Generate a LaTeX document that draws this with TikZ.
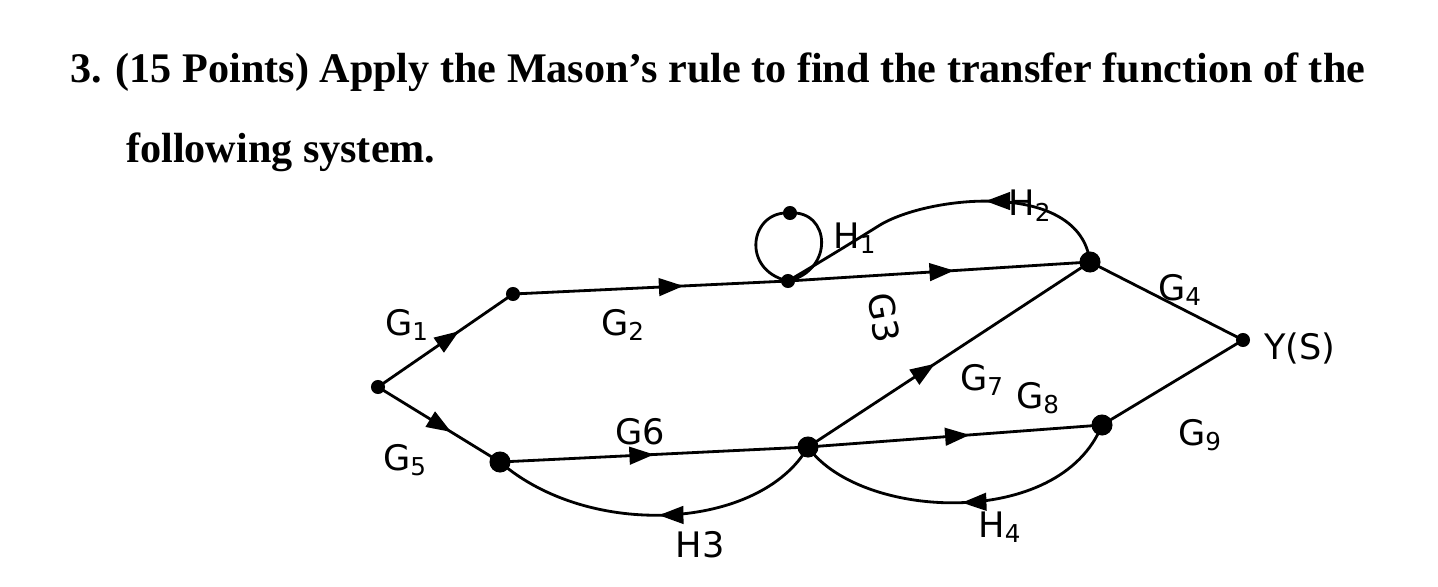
\documentclass[tikz,border=0pt]{standalone}
\usepackage{fontspec}
\setmainfont{Liberation Serif}
\newfontfamily\hand{DejaVu Sans}
\usetikzlibrary{decorations.markings,arrows.meta}
\begin{document}
\begin{tikzpicture}[x=0.02cm,y=-0.02cm,
  dot/.style={circle,fill=black,inner sep=0pt,minimum size=12pt},
  wire/.style={line width=1.6pt,postaction={decorate},decoration={markings,mark=at position #1 with {\arrow{Triangle[length=14pt,width=10pt]}}}},
  wire/.default=0.5,
  lab/.style={font=\hand\fontsize{20}{24}\selectfont,inner sep=1pt},
  head/.style={anchor=base west,font=\bfseries\fontsize{24}{28}\selectfont}]
\useasboundingbox (0,0) rectangle (1438,586);
\node[head] (t1) at (64,82) {3. (15 Points) Apply the Mason's rule to find the transfer function of the};
\node[head] (t2) at (120,162) {following system.};
\node[dot,minimum size=8pt] (s) at (378,387) {};
\node[dot,minimum size=8pt] (n1) at (513,294) {};
\node[dot,minimum size=8pt] (n2) at (788,281) {};
\node[dot] (n3) at (1090,262) {};
\node[dot,minimum size=8pt] (y) at (1243,340) {};
\node[dot] (n4) at (500,462) {};
\node[dot] (n5) at (808,447) {};
\node[dot] (n6) at (1102,425) {};
\node[dot,minimum size=8pt] (lp) at (790,213) {};
\draw[line width=1.6pt] (n2.center) .. controls (740,270) and (750,210) .. (lp.center) .. controls (830,210) and (835,270) .. (n2.center);
\draw[wire=0.6] (s.center) -- (n1.center);
\draw[wire=0.6] (s.center) -- (n4.center);
\draw[wire=0.62] (n1.center) -- (n2.center);
\draw[wire=0.55] (n2.center) -- (n3.center);
\draw[line width=1.6pt] (n3.center) -- (y.center);
\draw[wire=0.5] (n4.center) -- (n5.center);
\draw[wire=0.55] (n5.center) -- (n6.center);
\draw[wire=0.45] (n5.center) -- (n3.center);
\draw[line width=1.6pt] (n6.center) -- (y.center);
\draw[wire=0.38] (n3.center) .. controls (1080,180) and (930,195) .. (880,225) .. controls (840,250) and (815,265) .. (n2.center);
\draw[wire=0.5] (n5.center) .. controls (760,530) and (590,540) .. (n4.center);
\draw[wire=0.5] (n6.center) .. controls (1060,530) and (860,520) .. (n5.center);
\node[lab] (g1) at (407,325) {G\textsubscript{1}};
\node[lab] (g5) at (405,460) {G\textsubscript{5}};
\node[lab] (g2) at (623,325) {G\textsubscript{2}};
\node[lab,rotate=-80] (g3) at (884,318) {G3};
\node[lab] (g6) at (640,432) {G6};
\node[lab] (g7) at (982,380) {G\textsubscript{7}};
\node[lab] (g8) at (1038,398) {G\textsubscript{8}};
\node[lab] (g4) at (1180,290) {G\textsubscript{4}};
\node[lab] (g9) at (1200,435) {G\textsubscript{9}};
\node[lab] (h1) at (855,238) {H\textsubscript{1}};
\node[lab] (h2) at (1030,206) {H\textsubscript{2}};
\node[lab] (h3) at (700,545) {H3};
\node[lab] (h4) at (1000,527) {H\textsubscript{4}};
\node[lab,anchor=west] (ys) at (1262,348) {Y(S)};
\end{tikzpicture}
\end{document}
